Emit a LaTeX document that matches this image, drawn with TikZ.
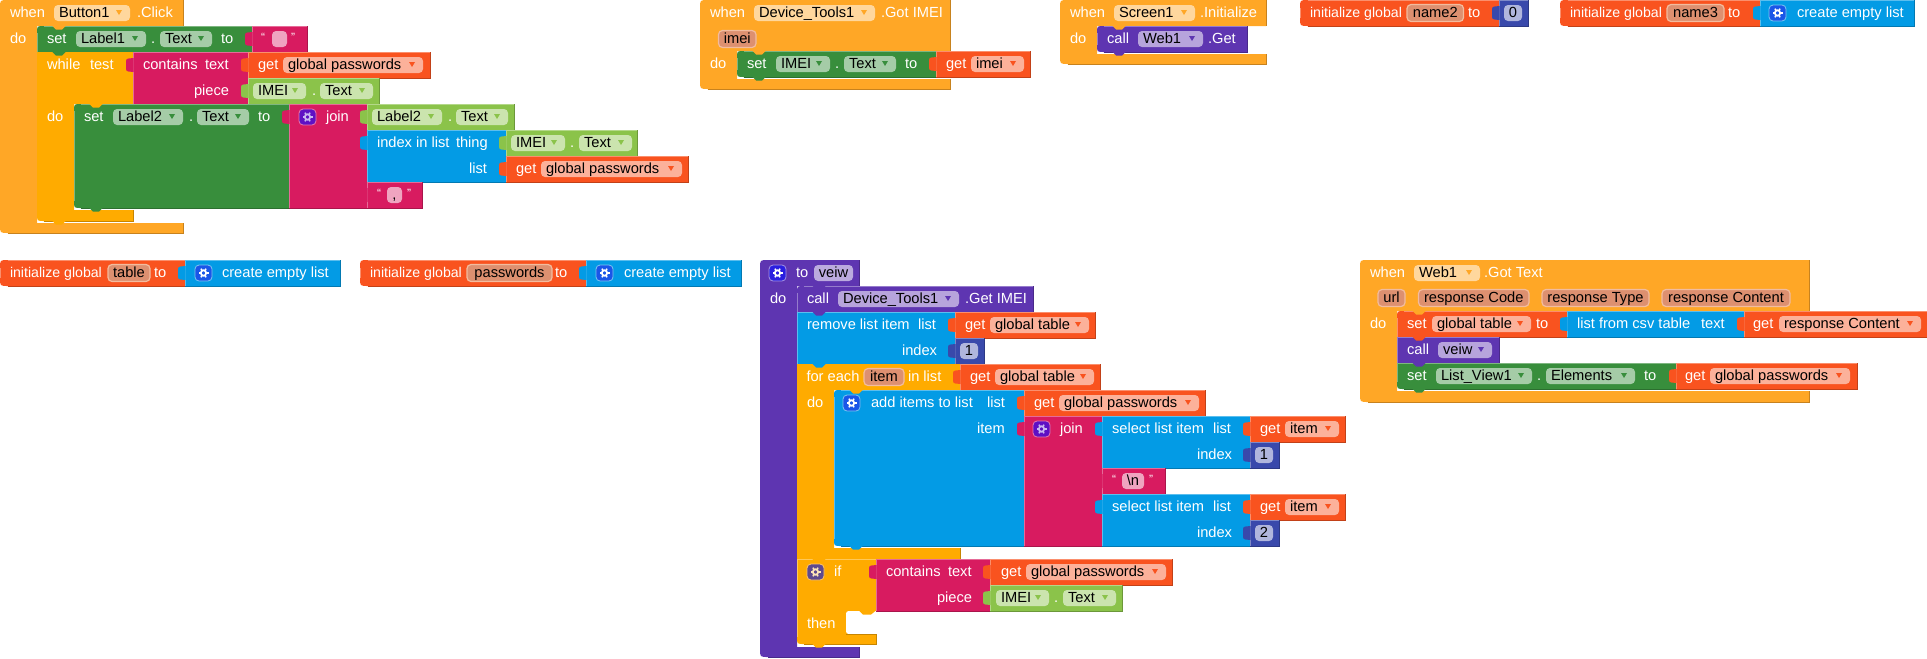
\documentclass[tikz,border=0pt]{standalone}
\usepackage{fontspec}
\setmainfont{Liberation Sans}
\definecolor{evt}{HTML}{FFA726}
\definecolor{ctl}{HTML}{FFAB00}
\definecolor{grn}{HTML}{388E3C}
\definecolor{pnk}{HTML}{D81B60}
\definecolor{org}{HTML}{F9531F}
\definecolor{lgn}{HTML}{8BC34A}
\definecolor{blu}{HTML}{039BE5}
\definecolor{pur}{HTML}{5E35B1}
\definecolor{ind}{HTML}{3949AB}
\definecolor{vfill}{HTML}{DD9070}
\definecolor{vline}{HTML}{F2BC9F}
\definecolor{iList}{HTML}{1A56E8}
\definecolor{iListB}{HTML}{7FC4F0}
\definecolor{iJoin}{HTML}{5E10C4}
\definecolor{iJoinB}{HTML}{E57AB0}
\definecolor{iJoinG}{HTML}{C9B8F0}
\definecolor{iProc}{HTML}{2A1EE0}
\definecolor{iProcB}{HTML}{A594E4}
\definecolor{iIf}{HTML}{5E4A8E}
\definecolor{iIfB}{HTML}{FFC56A}
\definecolor{iIfG}{HTML}{FFE6B8}
\newcounter{nc}
\tikzset{
  txt/.style={anchor=base west,inner sep=0pt,outer sep=0pt,text=white,font=\fontsize{11}{13}\selectfont},
  blacktxt/.style={txt,text=black},
  ctxt/.style={anchor=base,inner sep=0pt,outer sep=0pt,text=black,font=\fontsize{11}{13}\selectfont},
  qtxt/.style={anchor=base west,inner sep=0pt,outer sep=0pt,text=white,font=\fontsize{9}{11}\selectfont}
}
\newcommand{\initg}{{\fontsize{10.6}{13}\selectfont initialize global}}
% label: x, row top, text
\newcommand{\lbl}[3]{\stepcounter{nc}\node[txt] (n\arabic{nc}) at (#1,#2+17.5) {#3};}
% dropdown field: x1,x2,row top,text,colour
\newcommand{\fld}[5]{\fill[#5!45!white,rounded corners=3pt] (#1,#3+5) rectangle (#2,#3+21);
  \stepcounter{nc}\node[blacktxt] (n\arabic{nc}) at (#1+5,#3+17.5) {#4};
  \fill[#5] (#2-14,#3+10) -- (#2-8,#3+10) -- (#2-11,#3+15) -- cycle;}
% variable name pill
\newcommand{\varp}[4]{\draw[fill=vfill,draw=vline,line width=.9pt,rounded corners=3pt] (#1,#3+4.5) rectangle (#2,#3+21.5);
  \stepcounter{nc}\node[ctxt] (n\arabic{nc}) at ({(#1+#2)/2},#3+17.5) {#4};}
% plain pill
\newcommand{\plainp}[5]{\fill[#5,rounded corners=3pt] (#1,#3+5) rectangle (#2,#3+21);
  \stepcounter{nc}\node[ctxt] (n\arabic{nc}) at ({(#1+#2)/2},#3+17.5) {#4};}
% rectangular block with corner radii: tl,bl,x1,y1,x2,y2,colour
\newcommand{\blkr}[7]{\fill[#7] (#3+#1,#4) -- (#5,#4) -- (#5,#6) -- (#3+#2,#6) .. controls (#3,#6) .. (#3,#6-#2) -- (#3,#4+#1) .. controls (#3,#4) .. cycle;
  \draw[#7!78!black,line width=.75pt] (#3+#2,#6) -- (#5,#6) -- (#5,#4);
  \draw[#7!65!white,line width=.4pt] (#3+#1,#4) -- (#5,#4);
  \draw[#7!65!white,line width=.4pt] (#3,#6-#2) -- (#3,#4+#1);}
\newcommand{\blk}[5]{\blkr{0}{0}{#1}{#2}{#3}{#4}{#5}}
% value socket tab: x,row top,colour
\newcommand{\sock}[3]{\fill[#3] (#1+.5,#2+6) -- (#1-4.5,#2+6.5) .. controls (#1-6.5,#2+7) .. (#1-7,#2+9) -- (#1-7,#2+17) .. controls (#1-6.5,#2+19) .. (#1-4.5,#2+19.5) -- (#1+.5,#2+20) -- cycle;}
\newcommand{\val}[5]{\blk{#1}{#2}{#3}{#4}{#5}\sock{#1}{#2}{#5}}
% statement tab: column x, y, colour
\newcommand{\tabd}[3]{\fill[#3] (#1+15,#2-.5) -- (#1+19,#2+3.5) -- (#1+25,#2+3.5) -- (#1+29,#2-.5) -- cycle;}
% C shape
\def\ctl{8}\def\cbl{8}
\newcommand{\cshape}[9]{\fill[#9] (#1+\ctl,#2) -- (#3,#2) -- (#3,#4) -- (#5,#4) -- (#5,#6) -- (#7,#6) -- (#7,#8) -- (#1+\cbl,#8) .. controls (#1,#8) .. (#1,#8-\cbl) -- (#1,#2+\ctl) .. controls (#1,#2) .. cycle;
  \draw[#9!78!black,line width=.75pt] (#3,#2) -- (#3,#4);
  \draw[#9!78!black,line width=.75pt] (#7,#6) -- (#7,#8) -- (#1+\cbl,#8);}
% gear icon: x1,row top,fill,border,gear colour
\newcommand{\gearicon}[5]{\draw[fill=#3,draw=#4,line width=.6pt,rounded corners=3pt] (#1,#2+5) rectangle (#1+17,#2+21);
  \draw[#5,line width=1.3pt] (#1+8.5,#2+13) circle [radius=2.7];
  \foreach \a in {0,60,...,300}{\draw[#5,line width=1.2pt] (#1+8.5,#2+13) ++(\a:3) -- ++(\a:2);}}
% text block content: quote x, pill x1, pill x2, quote x, row top, text
\newcommand{\txtv}[6]{\stepcounter{nc}\node[qtxt] (n\arabic{nc}) at (#1,#5+15) {“};
  \plainp{#2}{#3}{#5}{#6}{pnk!40!white}
  \stepcounter{nc}\node[qtxt] (n\arabic{nc}) at (#4,#5+15) {”};}
\begin{document}
\begin{tikzpicture}[x=.75pt,y=-.75pt]
\useasboundingbox (0,0) rectangle (1927,658);
%% ---------- Button1.Click ----------
\cshape{0}{0}{183}{26}{37}{223}{183}{233}{evt}
\lbl{10}{0}{when}\fld{54}{130}{0}{Button1}{evt}\lbl{137}{0}{.Click}
\lbl{10}{26}{do}
\blkr{7}{0}{37}{26}{252}{52}{grn}
\lbl{47}{26}{set}\fld{76}{146}{26}{Label1}{grn}\lbl{151}{26}{.}\fld{160}{212}{26}{Text}{grn}\lbl{221}{26}{to}
\val{252}{26}{307}{52}{pnk}
\txtv{261}{272}{287}{291}{26}{}
\def\ctl{0}\def\cbl{7}
\cshape{37}{52}{133}{104}{74}{210}{133}{221}{ctl}
\def\ctl{8}\def\cbl{8}
\lbl{47}{52}{while}\lbl{90}{52}{test}\lbl{47}{104}{do}
\tabd{37}{26}{evt}\tabd{37}{52}{grn}
\val{133}{52}{248}{104}{pnk}
\lbl{143}{52}{contains}\lbl{205}{52}{text}\lbl{194}{78}{piece}
\val{248}{52}{430}{78}{org}\lbl{258}{52}{get}\fld{283}{423}{52}{global passwords}{org}
\val{248}{78}{379}{104}{lgn}\fld{253}{306}{78}{IMEI}{lgn}\lbl{312}{78}{.}\fld{320}{373}{78}{Text}{lgn}
\blkr{7}{7}{74}{104}{289}{208}{grn}
\lbl{84}{104}{set}\fld{113}{183}{104}{Label2}{grn}\lbl{189}{104}{.}\fld{197}{249}{104}{Text}{grn}\lbl{258}{104}{to}
\val{289}{104}{367}{208}{pnk}
\gearicon{299}{104}{iJoin}{iJoinB}{iJoinG}\lbl{326}{104}{join}
\val{367}{104}{514}{130}{lgn}\fld{372}{442}{104}{Label2}{lgn}\lbl{448}{104}{.}\fld{456}{508}{104}{Text}{lgn}
\val{367}{130}{506}{182}{blu}\lbl{377}{130}{index in list}\lbl{456}{130}{thing}\lbl{469}{156}{list}
\val{506}{130}{637}{156}{lgn}\fld{511}{565}{130}{IMEI}{lgn}\lbl{570}{130}{.}\fld{579}{632}{130}{Text}{lgn}
\val{506}{156}{688}{182}{org}\lbl{516}{156}{get}\fld{541}{682}{156}{global passwords}{org}
\val{367}{182}{422}{208}{pnk}\txtv{377}{387}{402}{407}{182}{,}
\tabd{74}{104}{ctl}\tabd{74}{208}{grn}\tabd{37}{221}{ctl}
%% ---------- Device_Tools1.Got IMEI ----------
\cshape{700}{0}{950}{51}{737}{79}{950}{89}{evt}
\lbl{710}{0}{when}\fld{754}{875}{0}{Device\_Tools1}{evt}\lbl{881}{0}{.Got IMEI}
\varp{718.5}{756}{26}{imei}\lbl{710}{51}{do}
\blkr{7}{7}{737}{51}{936}{77}{grn}
\lbl{747}{51}{set}\fld{776}{830}{51}{IMEI}{grn}\lbl{835}{51}{.}\fld{844}{896}{51}{Text}{grn}\lbl{905}{51}{to}
\val{936}{51}{1030}{77}{org}\lbl{946}{51}{get}\fld{971}{1024}{51}{imei}{org}
\tabd{737}{51}{evt}\tabd{737}{77}{grn}
%% ---------- Screen1.Initialize ----------
\cshape{1060}{0}{1266}{26}{1097}{54}{1266}{64}{evt}
\lbl{1070}{0}{when}\fld{1114}{1195}{0}{Screen1}{evt}\lbl{1200}{0}{.Initialize}\lbl{1070}{26}{do}
\blkr{7}{7}{1097}{26}{1247}{52}{pur}
\lbl{1107}{26}{call}\fld{1138}{1203}{26}{Web1}{pur}\lbl{1208}{26}{.Get}
\tabd{1097}{26}{evt}\tabd{1097}{52}{pur}
%% ---------- initialize global name2 ----------
\blkr{8}{8}{1300}{0}{1499}{26}{org}
\lbl{1310}{0}{\initg}\varp{1407}{1463.5}{0}{name2}\lbl{1468}{0}{to}
\val{1499}{0}{1528}{26}{ind}\plainp{1504}{1522}{0}{0}{ind!40!white}
%% ---------- initialize global name3 ----------
\blkr{8}{8}{1560}{0}{1760}{26}{org}
\lbl{1570}{0}{\initg}\varp{1667}{1724}{0}{name3}\lbl{1728}{0}{to}
\val{1760}{0}{1914}{26}{blu}\gearicon{1769}{0}{iList}{iListB}{white}\lbl{1797}{0}{create empty list}
%% ---------- initialize global table ----------
\blkr{8}{8}{0}{260}{185}{286}{org}
\lbl{10}{260}{\initg}\varp{108}{150}{260}{table}\lbl{154}{260}{to}
\val{185}{260}{340}{286}{blu}\gearicon{195}{260}{iList}{iListB}{white}\lbl{222}{260}{create empty list}
%% ---------- initialize global passwords ----------
\blkr{8}{8}{360}{260}{586}{286}{org}
\lbl{370}{260}{\initg}\varp{467}{552}{260}{passwords}\lbl{555}{260}{to}
\val{586}{260}{741}{286}{blu}\gearicon{596}{260}{iList}{iListB}{white}\lbl{624}{260}{create empty list}
%% ---------- to veiw ----------
\cshape{760}{260}{859}{286}{797}{647}{859}{657}{pur}
\gearicon{769}{260}{iProc}{iProcB}{white}\lbl{796}{260}{to}\plainp{814}{853}{260}{veiw}{pur!42!white}
\lbl{770}{286}{do}
\blkr{7}{0}{797}{286}{1033}{312}{pur}
\lbl{807}{286}{call}\fld{838}{959}{286}{Device\_Tools1}{pur}\lbl{965}{286}{.Get IMEI}
\blk{797}{312}{955}{364}{blu}
\lbl{807}{312}{remove list item}\lbl{918}{312}{list}\lbl{902}{338}{index}
\val{955}{312}{1095}{338}{org}\lbl{965}{312}{get}\fld{990}{1089}{312}{global table}{org}
\val{955}{338}{984}{364}{ind}\plainp{960}{978}{338}{1}{ind!40!white}
\def\ctl{0}\def\cbl{0}
\cshape{797}{364}{960}{390}{834}{548}{960}{559}{ctl}
\def\ctl{8}\def\cbl{8}
\lbl{806.5}{364}{for each}\varp{864}{904}{364}{item}\lbl{908}{364}{in list}\lbl{807}{390}{do}
\val{960}{364}{1100}{390}{org}\lbl{970}{364}{get}\fld{995}{1094}{364}{global table}{org}
\blkr{7}{7}{834}{390}{1024}{546}{blu}
\gearicon{843}{390}{iList}{iListB}{white}\lbl{871}{390}{add items to list}\lbl{987}{390}{list}\lbl{977}{416}{item}
\val{1024}{390}{1205}{416}{org}\lbl{1034}{390}{get}\fld{1059}{1199}{390}{global passwords}{org}
\val{1024}{416}{1102}{546}{pnk}\gearicon{1033}{416}{iJoin}{iJoinB}{iJoinG}\lbl{1060}{416}{join}
\val{1102}{416}{1250}{468}{blu}\lbl{1112}{416}{select list item}\lbl{1213}{416}{list}\lbl{1197}{442}{index}
\val{1250}{416}{1345}{442}{org}\lbl{1260}{416}{get}\fld{1285}{1339}{416}{item}{org}
\val{1250}{442}{1279}{468}{ind}\plainp{1255}{1273}{442}{1}{ind!40!white}
\val{1102}{468}{1165}{494}{pnk}\txtv{1112}{1122}{1144}{1149}{468}{\textbackslash n}
\val{1102}{494}{1250}{546}{blu}\lbl{1112}{494}{select list item}\lbl{1213}{494}{list}\lbl{1197}{520}{index}
\val{1250}{494}{1345}{520}{org}\lbl{1260}{494}{get}\fld{1285}{1339}{494}{item}{org}
\val{1250}{520}{1279}{546}{ind}\plainp{1255}{1273}{520}{2}{ind!40!white}
%% if block
\blkr{0}{7}{797}{559}{876}{644}{ctl}
\fill[white] (878,611) -- (852,611) .. controls (846,611) .. (846,617) -- (846,628) .. controls (846,634) .. (852,634) -- (878,634) -- cycle;
\draw[ctl!78!black,line width=.75pt] (846,634.3) -- (876,634.3) -- (876,644) -- (804,644);
\fill[ctl] (859,610.5) -- (863,614.5) -- (871,614.5) -- (876,610.5) -- cycle;
\gearicon{807}{559}{iIf}{iIfB}{iIfG}\lbl{834}{559}{if}\lbl{807}{611}{then}
\val{876}{559}{990}{611}{pnk}\lbl{886}{559}{contains}\lbl{948}{559}{text}\lbl{937}{585}{piece}
\val{990}{559}{1172}{585}{org}\lbl{1001}{559}{get}\fld{1026}{1166}{559}{global passwords}{org}
\val{990}{585}{1122}{611}{lgn}\fld{996}{1049}{585}{IMEI}{lgn}\lbl{1054}{585}{.}\fld{1063}{1116}{585}{Text}{lgn}
\tabd{797}{286}{pur}\tabd{797}{312}{pur}\tabd{797}{364}{blu}\tabd{834}{390}{ctl}\tabd{834}{546}{blu}\tabd{797}{559}{ctl}\tabd{797}{644}{ctl}
%% ---------- Web1.Got Text ----------
\cshape{1360}{260}{1809}{311}{1397}{391}{1809}{402}{evt}
\lbl{1370}{260}{when}\fld{1414}{1480}{260}{Web1}{evt}\lbl{1484}{260}{.Got Text}
\varp{1378}{1405}{285}{url}\varp{1418.5}{1529}{285}{response Code}\varp{1542}{1649}{285}{response Type}\varp{1662}{1790}{285}{response Content}
\lbl{1370}{311}{do}
\blkr{7}{0}{1397}{311}{1567}{337}{org}
\lbl{1407}{311}{set}\fld{1432}{1531}{311}{global table}{org}\lbl{1536}{311}{to}
\val{1567}{311}{1744}{337}{blu}\lbl{1577}{311}{list from csv table}\lbl{1701}{311}{text}
\val{1744}{311}{1927}{337}{org}\lbl{1753}{311}{get}\fld{1779}{1921}{311}{response Content}{org}
\blk{1397}{337}{1499}{363}{pur}\lbl{1407}{337}{call}\fld{1438}{1492}{337}{veiw}{pur}
\blkr{0}{7}{1397}{363}{1676}{389}{grn}
\lbl{1407}{363}{set}\fld{1436}{1532}{363}{List\_View1}{grn}\lbl{1537}{363}{.}\fld{1546}{1635}{363}{Elements}{grn}\lbl{1644}{363}{to}
\val{1676}{363}{1857}{389}{org}\lbl{1685}{363}{get}\fld{1710}{1850}{363}{global passwords}{org}
\tabd{1397}{311}{evt}\tabd{1397}{337}{org}\tabd{1397}{363}{pur}\tabd{1397}{389}{grn}
\end{tikzpicture}
\end{document}
